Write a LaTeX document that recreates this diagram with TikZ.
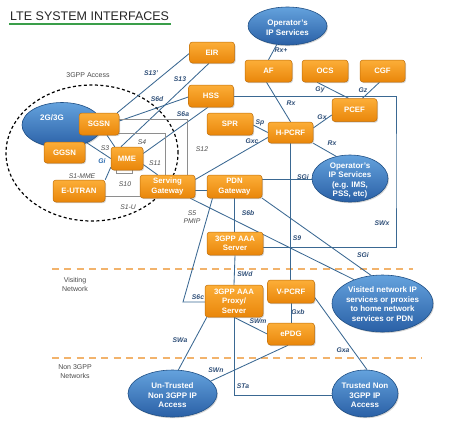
\documentclass[tikz,border=0pt]{standalone}
\usepackage{fontspec}
\setmainfont{Liberation Sans}
\usetikzlibrary{shapes.geometric,shadows}
\pgfdeclarelayer{background}
\pgfsetlayers{background,main}
\definecolor{orT}{HTML}{FCAE38}
\definecolor{orB}{HTML}{E9860A}
\definecolor{orD}{HTML}{C06E08}
\definecolor{blT}{HTML}{64A2DD}
\definecolor{blB}{HTML}{2A60A6}
\definecolor{blD}{HTML}{1F4F85}
\definecolor{lnB}{HTML}{3A6892}
\definecolor{lnG}{HTML}{8E8E8E}
\definecolor{lbB}{HTML}{2F4F78}
\definecolor{lbG}{HTML}{4A4A4A}
\definecolor{giB}{HTML}{2E6DB0}
\definecolor{dashO}{HTML}{F2B36C}
\definecolor{ttlG}{HTML}{3A9E4A}
\begin{document}
\begin{tikzpicture}[x=1pt,y=-1pt,
  box/.style={rounded corners=3pt, draw=orD, line width=0.5pt, top color=orT, bottom color=orB,
    text=white, font=\fontsize{7.8}{9.5}\selectfont\bfseries, align=center, inner sep=0pt,
    drop shadow={shadow xshift=1pt,shadow yshift=-1.2pt,opacity=0.35}},
  cloud/.style={ellipse, draw=blD, line width=0.6pt, top color=blT, bottom color=blB,
    inner sep=0pt, drop shadow={shadow xshift=1pt,shadow yshift=-1.2pt,opacity=0.35}},
  ctext/.style={text=white, font=\fontsize{8}{9.5}\selectfont\bfseries, align=center, inner sep=0pt},
  ln/.style={draw=lnB, line width=0.85pt},
  gln/.style={draw=lnG, line width=0.85pt},
  lbl/.style={text=lbB, font=\fontsize{6.8}{7.5}\selectfont\bfseries\itshape, inner sep=0pt},
  glbl/.style={text=lbG, font=\fontsize{6.8}{8}\selectfont\itshape, inner sep=0pt, align=center},
  zone/.style={text=lbG, font=\fontsize{7}{9}\selectfont, inner sep=0pt, align=center},
  sepline/.style={draw=dashO, line width=2.2pt, dash pattern=on 7pt off 5.3pt},
  accessring/.style={draw=black, line width=1.2pt, dash pattern=on 3pt off 2.5pt}
]
\useasboundingbox (0,0) rectangle (454,424);

% title
\node[anchor=base west, font=\fontsize{12.5}{14}\selectfont, text=black!85, inner sep=0pt] (title) at (10,20) {LTE SYSTEM INTERFACES};
\draw[ttlG, line width=2pt] (9,23.5) -- (171,23.5);

% zone labels
\node[zone] (accesslbl) at (88,75) {3GPP Access};
\node[zone] (visitlbl) at (75,284.5) {Visiting\\Network};
\node[zone] (non3lbl) at (75,371.5) {Non 3GPP\\Networks};

% ellipses
\node[cloud, minimum width=79pt, minimum height=38pt] (ops1) at (287.5,26) {};
\node[ctext] (ops1t) at (287.5,27.7) {Operator's\\IP Services};
\node[cloud, minimum width=76pt, minimum height=47pt] (ops2) at (350,178.5) {};
\node[ctext] (ops2t) at (350,180.5) {Operator's\\IP Services\\(e.g. IMS,\\PSS, etc)};
\node[cloud, minimum width=101pt, minimum height=57pt] (visited) at (382.5,303.5) {};
\node[ctext] (visitedt) at (382.5,304) {Visited network IP\\services or proxies\\to home network\\services or PDN};
\node[cloud, minimum width=66pt, minimum height=47pt] (trusted) at (365,393.5) {};
\node[ctext] (trustedt) at (365,395.3) {Trusted Non\\3GPP IP\\Access};
\node[cloud, minimum width=89pt, minimum height=47pt] (untrusted) at (172.5,393.5) {};
\node[ctext] (untrustedt) at (172.5,395.3) {Un-Trusted\\Non 3GPP IP\\Access};
\node[cloud, minimum width=80pt, minimum height=45pt] (g23) at (62,125) {};
\node[ctext] (g23t) at (52,118) {2G/3G};

% boxes
\node[box, minimum width=45pt, minimum height=21pt] (eir) at (212,52.5) {EIR};
\node[box, minimum width=47pt, minimum height=22pt] (af) at (268.5,71) {AF};
\node[box, minimum width=46pt, minimum height=22pt] (ocs) at (325,71) {OCS};
\node[box, minimum width=45pt, minimum height=22pt] (cgf) at (382.5,71) {CGF};
\node[box, minimum width=45pt, minimum height=22pt] (hss) at (211,96) {HSS};
\node[box, minimum width=45pt, minimum height=23pt] (pcef) at (354.5,110) {PCEF};
\node[box, minimum width=46pt, minimum height=22pt] (spr) at (230,124) {SPR};
\node[box, minimum width=45pt, minimum height=21pt] (hpcrf) at (290.5,132.5) {H-PCRF};
\node[box, minimum width=40pt, minimum height=22pt] (sgsn) at (99,124) {SGSN};
\node[box, minimum width=41pt, minimum height=21pt] (ggsn) at (64.5,152.5) {GGSN};
\node[box, minimum width=32pt, minimum height=23pt] (mme) at (127,158.5) {MME};
\node[box, minimum width=52pt, minimum height=22pt] (eutran) at (79,191) {E-UTRAN};
\node[box, minimum width=55pt, minimum height=23pt] (sgw) at (167.5,186.5) {Serving\\Gateway};
\node[box, minimum width=55pt, minimum height=23pt] (pgw) at (234.5,186.5) {PDN\\Gateway};
\node[box, minimum width=56pt, minimum height=23pt] (aaa) at (235,243.5) {3GPP AAA\\Server};
\node[box, minimum width=58pt, minimum height=32pt] (aaap) at (234,301) {3GPP AAA\\Proxy/\\Server};
\node[box, minimum width=47pt, minimum height=23pt] (vpcrf) at (291,291.5) {V-PCRF};
\node[box, minimum width=47pt, minimum height=22pt] (epdg) at (291,334) {ePDG};

% connectors and background decorations
\begin{pgfonlayer}{background}
\draw[accessring] (92,153) ellipse [x radius=86pt, y radius=68pt];
\draw[sepline] (52,269) -- (413,269);
\draw[sepline] (52,358) -- (422,358);

\coordinate (swxc) at (396,170);
\coordinate (s6cbend) at (183,302);

\draw[ln] (ops1.240) -- (af.north);
\draw[ln] ([xshift=-2pt]af.south) -- (hpcrf.north);
\draw[ln] ([xshift=-8pt]ocs.south) -- ([xshift=-6pt]pcef.north);
\draw[ln] ([xshift=-3pt]cgf.south) -- ([xshift=8pt]pcef.north);
\draw[ln] ([yshift=-5pt]pcef.west) -- ([yshift=4.5pt]hpcrf.east);
\draw[ln] ([yshift=-1pt]spr.east) -- (hpcrf.west);
\draw[ln] (hpcrf.south east) -- (ops2.122);
\draw[ln] (hpcrf.south) -- (hpcrf.south |- vpcrf.north);
\draw[ln] (vpcrf.south) -- (epdg.north);
\draw[ln] ([yshift=-5pt]hpcrf.west) -- ([yshift=7pt]sgw.east);
\draw[ln] ([yshift=7pt]pgw.east) -- ([yshift=7pt]pgw.east -| ops2.west);
\draw[ln] (pgw.south east) -- (visited.112);
\draw[ln] ([xshift=-5pt]sgw.south east) -- (visited.140);
\draw[ln] ([yshift=-4pt]sgw.east) -- ([yshift=-4pt]pgw.west);
\draw[ln] ([xshift=-22pt]pgw.south) -- (s6cbend) -- (s6cbend -| aaap.west);
\draw[ln] (pgw.south) -- (pgw.south |- aaa.north);
\draw[ln] (aaa.south) -- (aaap.north);
\draw[ln] ([yshift=-3.5pt]aaa.east) -| (swxc) |- (hss.east);
\draw[ln] (aaap.south) -- (epdg.west);
\draw[ln] (untrusted.18) -- ([xshift=-3pt]epdg.south);
\draw[ln] (untrusted.76) -- ([xshift=2pt]aaap.south west);
\draw[ln] (aaap.south) |- ([yshift=-1.5pt]trusted.west);
\draw[ln] ([yshift=-6pt]vpcrf.east) -- (trusted.85);

\draw[ln] ([xshift=-2pt]sgsn.north east) -- ([yshift=-1pt]eir.west);
\draw[ln] ([xshift=-6pt]mme.north) -- ([xshift=-3pt]eir.south);
\draw[ln] ([yshift=3pt]sgsn.east) -- ([yshift=-1pt]hss.west);
\draw[ln] ([yshift=5pt]mme.east) -- ([xshift=-3pt]hss.south);
\draw[gln] ([yshift=5pt]sgsn.east) -| ([xshift=19.5pt]sgw.north);
\draw[gln] ([yshift=-9pt]sgsn.east) -| ([xshift=-2.5pt]sgw.north);
\draw[ln] ([xshift=8pt]sgsn.south) -- ([xshift=4pt]mme.north west);
\draw[ln] (ggsn.north east) -- (mme.west);
\draw[ln] ([yshift=-6pt]mme.east) -- ([xshift=-10pt]sgw.north);
\draw[gln] ([xshift=-11pt]mme.south) -- ++(0,3.5) -| ([xshift=5pt]mme.south);
\draw[ln] (eutran.north east) -- ([yshift=3pt]mme.south west);
\draw[gln] ([yshift=-5pt]eutran.east) -- ([yshift=-5pt]eutran.east -| sgw.west);
\end{pgfonlayer}

% interface labels
\node[lbl] (lrxp) at (281,50) {Rx+};
\node[lbl] (lrx1) at (291,103) {Rx};
\node[lbl] (lgy) at (320,90) {Gy};
\node[lbl] (lgz) at (363,90) {Gz};
\node[lbl] (lgx) at (322,117) {Gx};
\node[lbl] (lsp) at (260,123) {Sp};
\node[lbl] (lrx2) at (332,143) {Rx};
\node[lbl] (lgxc) at (252,141) {Gxc};
\node[lbl] (lsgi1) at (303,177) {SGi};
\node[lbl] (ls9) at (297,238) {S9};
\node[lbl] (lswx) at (382,223) {SWx};
\node[lbl] (lsgi2) at (363,255) {SGi};
\node[lbl] (ls6b) at (248,213) {S6b};
\node[lbl] (lswd) at (245,274) {SWd};
\node[lbl] (ls6c) at (198,297) {S6c};
\node[lbl] (lswm) at (258,321) {SWm};
\node[lbl] (lgxb) at (298,312) {Gxb};
\node[lbl] (lgxa) at (343,350) {Gxa};
\node[lbl] (lswa) at (180,340) {SWa};
\node[lbl] (lswn) at (216,370) {SWn};
\node[lbl] (lsta) at (243,386) {STa};
\node[lbl] (ls13p) at (151,73) {S13'};
\node[lbl] (ls13) at (180,79) {S13};
\node[lbl] (ls6d) at (157,99) {S6d};
\node[lbl] (ls6a) at (183,114) {S6a};
\node[lbl, text=giB] (lgi) at (102,161) {Gi};
\node[glbl] (ls12) at (202,149) {S12};
\node[glbl] (ls4) at (142,142) {S4};
\node[glbl] (ls3) at (105,148) {S3};
\node[glbl] (ls11) at (155,163) {S11};
\node[glbl] (ls10) at (125,184) {S10};
\node[glbl] (ls1mme) at (82,176) {S1-MME};
\node[glbl] (ls1u) at (128,207) {S1-U};
\node[glbl] (ls5) at (192,217.5) {S5\\PMIP};
\end{tikzpicture}
\end{document}
